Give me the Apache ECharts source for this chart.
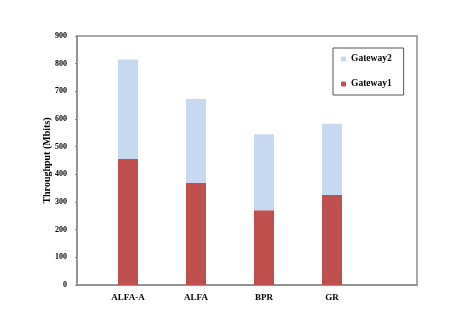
<!DOCTYPE html>
<html>
<head>
<meta charset="utf-8">
<script src="https://cdn.jsdelivr.net/npm/echarts@6/dist/echarts.min.js"></script>
<style>
html,body{margin:0;padding:0;background:#fff;}
#c{width:474px;height:335px;}
</style>
</head>
<body>
<div id="c"></div>
<script>
const categories = ['ALFA-A', 'ALFA', 'BPR', 'GR', ''];
const gateway1 = [455, 370, 270, 325, null];
const gateway2 = [360, 302, 275, 258, null];
const yTicks = [0, 100, 200, 300, 400, 500, 600, 700, 800, 900];

const font = '"Liberation Serif", "Times New Roman", serif';
const chart = echarts.init(document.getElementById('c'), null, {renderer: 'canvas'});
chart.setOption({
  animation: false,
  backgroundColor: '#fff',
  grid: {left: 77, right: 57, top: 36, bottom: 50, show: true, borderColor: '#8c8c8c', borderWidth: 1.5, backgroundColor: 'transparent'},
  legend: {
    data: ['Gateway2', 'Gateway1'],
    orient: 'vertical',
    left: 333, top: 48,
    itemWidth: 5, itemHeight: 5,
    itemGap: 15,
    padding: [6, 12, 6, 8],
    borderColor: '#555', borderWidth: 1,
    textStyle: {fontFamily: font, fontWeight: 'bold', fontSize: 9.5, color: '#000'}
  },
  xAxis: {
    type: 'category',
    data: categories,
    axisLine: {show: true, lineStyle: {color: '#8c8c8c', width: 1.5}},
    axisTick: {show: false},
    axisLabel: {fontFamily: font, fontWeight: 'bold', fontSize: 9, color: '#000', margin: 8, padding: [0, 0, 0, 34], interval: 0}
  },
  yAxis: {
    type: 'value',
    min: yTicks[0], max: yTicks[yTicks.length - 1], interval: 100,
    name: 'Throughput (Mbits)',
    nameLocation: 'middle',
    nameGap: 25,
    nameMoveOverlap: false,
    nameTextStyle: {fontFamily: font, fontWeight: 'bold', fontSize: 10, color: '#000'},
    axisLine: {show: true, lineStyle: {color: '#8c8c8c', width: 1.5}},
    axisTick: {show: true, length: 2, lineStyle: {color: '#8c8c8c'}},
    splitLine: {show: false},
    axisLabel: {fontFamily: font, fontWeight: 'bold', fontSize: 8, color: '#000', margin: 10}
  },
  series: [
    {name: 'spacer', type: 'bar', data: categories.map(() => null), barWidth: 20, barGap: '70%', silent: true},
    {name: 'Gateway1', type: 'bar', stack: 'g', data: gateway1, barWidth: 20, barGap: '70%', itemStyle: {color: '#C0504D'}},
    {name: 'Gateway2', type: 'bar', stack: 'g', data: gateway2, barWidth: 20, barGap: '70%', itemStyle: {color: '#C6D9F1'}}
  ]
});
</script>
</body>
</html>
